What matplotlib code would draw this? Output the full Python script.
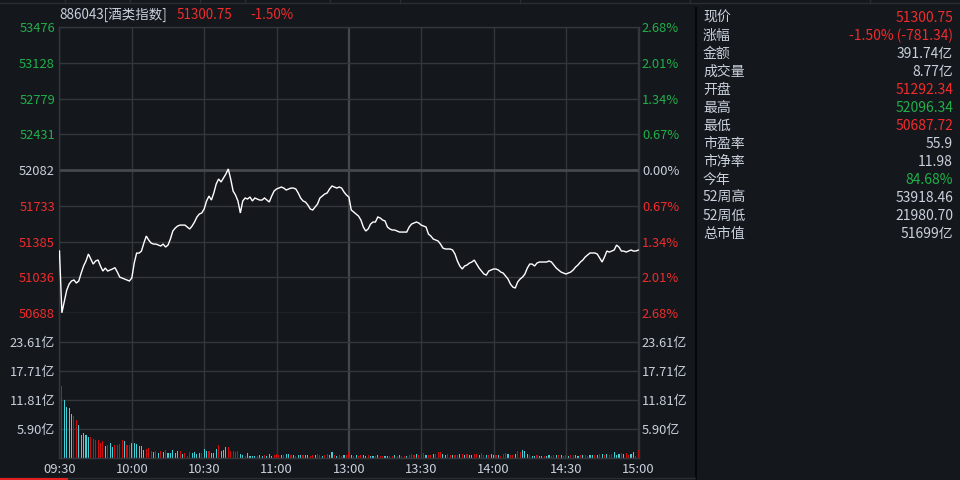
import matplotlib
matplotlib.use("Agg")
import matplotlib.pyplot as plt
import numpy as np

# ---------------- data ----------------
code_name = "886043[酒类指数]"
last_price = "51300.75"
last_pct = "-1.50%"
prev_close = 52082.09

price = [
    51292, 50690, 50800, 50910, 50970, 51000, 51010, 50980, 51000, 51077,
    51146, 51195, 51263, 51214, 51165, 51195, 51205, 51146, 51097, 51126,
    51097, 51107, 51117, 51130, 51087, 51038, 51029, 51019, 51009, 51000,
    51029, 51175, 51272, 51272, 51292, 51370, 51438, 51399, 51370, 51360,
    51360, 51350, 51341, 51360, 51331, 51350, 51409, 51487, 51516, 51536,
    51545, 51545, 51545, 51526, 51507, 51536, 51575, 51624, 51653, 51663,
    51702, 51780, 51828, 51789, 51858, 51946, 51994, 51965, 52004, 52043,
    52092, 51994, 51877, 51838, 51780, 51663, 51780, 51809, 51799, 51819,
    51780, 51809, 51799, 51789, 51789, 51809, 51789, 51770, 51828, 51877,
    51897, 51906, 51916, 51906, 51887, 51897, 51906, 51906, 51897, 51858,
    51809, 51780, 51770, 51741, 51702, 51692, 51721, 51750, 51809, 51828,
    51848, 51858, 51897, 51926, 51916, 51906, 51916, 51906, 51867, 51838,
    51819, 51692, 51672, 51653, 51633, 51594, 51526, 51487, 51507, 51555,
    51575, 51575, 51624, 51614, 51594, 51585, 51526, 51507, 51497, 51497,
    51487, 51477, 51477, 51477, 51477, 51526, 51555, 51565, 51575, 51565,
    51545, 51536, 51526, 51458, 51438, 51409, 51399, 51390, 51360, 51321,
    51312, 51312, 51312, 51302, 51263, 51195, 51146, 51117, 51146, 51156,
    51175, 51185, 51204, 51165, 51126, 51097, 51068, 51058, 51097, 51107,
    51117, 51117, 51107, 51087, 51077, 51048, 51019, 50970, 50941, 50931,
    50990, 51019, 51038, 51068, 51126, 51165, 51165, 51146, 51175, 51185,
    51185, 51185, 51185, 51195, 51185, 51156, 51126, 51107, 51087, 51077,
    51068, 51077, 51087, 51107, 51136, 51156, 51185, 51204, 51234, 51253,
    51273, 51273, 51273, 51263, 51224, 51185, 51234, 51292, 51282, 51292,
    51302, 51350, 51331, 51292, 51292, 51282, 51292, 51302, 51292, 51292,
    51300.75,
]

volume = [
    32.0, 14.7, 11.8, 10.4, 10.1, 8.9, 8.4, 7.7, 6.7, 4.6,
    5.1, 4.6, 4.1, 4.1, 3.8, 3.6, 3.6, 2.9, 3.4, 2.4,
    2.6, 2.9, 2.2, 2.5, 2.5, 2.8, 3.6, 3.4, 2.6, 2.6,
    2.9, 2.9, 2.8, 2.4, 2.4, 1.5, 1.7, 1.9, 1.3, 1.2,
    1.3, 1.0, 1.3, 1.2, 1.5, 1.0, 1.0, 1.5, 1.0, 1.3,
    1.3, 0.8, 1.0, 0.3, 1.2, 1.0, 1.2, 0.7, 1.0, 1.0,
    1.7, 1.3, 1.3, 1.0, 1.0, 1.7, 2.6, 1.4, 1.5, 2.1,
    2.1, 1.4, 1.3, 1.2, 1.3, 0.7, 0.6, 0.4, 1.0, 0.4,
    0.4, 0.4, 0.4, 0.6, 0.4, 0.6, 0.4, 0.7, 0.4, 0.6,
    0.7, 0.6, 0.5, 0.5, 0.8, 0.7, 0.6, 0.6, 0.4, 0.6,
    0.5, 0.6, 0.5, 0.6, 0.4, 0.6, 0.5, 0.7, 0.5, 0.4,
    0.5, 0.7, 0.6, 1.1, 0.5, 0.4, 0.5, 0.3, 0.5, 0.6,
    1.1, 0.5, 0.4, 0.5, 0.4, 0.5, 0.5, 0.4, 0.5, 0.4,
    0.3, 0.4, 0.5, 0.4, 0.3, 0.4, 0.4, 0.3, 0.4, 0.5,
    0.3, 0.5, 0.4, 0.4, 0.3, 0.5, 0.7, 0.6, 0.8, 0.6,
    0.8, 0.9, 0.5, 0.6, 0.6, 0.7, 0.8, 1.1, 1.2, 0.8,
    0.6, 0.7, 0.5, 0.6, 0.6, 0.5, 0.7, 0.8, 0.6, 0.7,
    0.5, 0.6, 0.8, 0.7, 0.6, 0.9, 0.6, 0.5, 0.6, 0.7,
    0.6, 0.5, 0.6, 0.4, 0.7, 1.0, 0.8, 0.6, 0.5, 0.7,
    1.3, 1.2, 1.5, 1.4, 0.8, 0.6, 0.4, 0.4, 0.5, 0.4,
    0.4, 0.3, 0.4, 0.5, 0.4, 0.6, 0.5, 0.6, 0.5, 0.4,
    0.6, 0.4, 0.5, 0.6, 0.5, 0.4, 0.6, 0.5, 0.6, 0.4,
    0.5, 0.6, 0.6, 0.5, 0.7, 0.7, 0.6, 0.8, 0.6, 0.7,
    1.1, 0.6, 0.7, 0.9, 0.8, 0.9, 0.6, 0.7, 1.2, 0.4,
    1.5,
]

# R = up bar, C = down bar
vol_dir = (
    "RRCCCCRRCC" "CCCRRRRRRC" "RCCRRRRCRR" "CCCCCCRRRC" "RCRCRCCCCC"
    "RCRRRCCCCR" "CCRCCCRCCC" "RRRRRCCRCC" "CCRCCRCCCR" "RRCRCCRCRC"
    "CRCCRRCRRC" "RRCCRCRRCR" "RCRCRRCCRC" "CRCRRCCRRC" "RCRRCRRRCR"
    "RRCRRCRRRC" "CRRCRRCRCR" "CCRRCRRCRC" "CRCRRRCRRC" "RRCCCRCCRC"
    "CRCCRRCRCR" "RCRRCCRCRR" "CCRCRCRCRR" "CCCRCRRCCR" "R"
)

time_ticks = [0, 30, 60, 90, 120, 150, 180, 210, 240]
time_labels = ["09:30", "10:00", "10:30", "11:00", "13:00", "13:30", "14:00", "14:30", "15:00"]

price_ticks = [50688, 51036, 51385, 51733, 52082, 52431, 52779, 53128, 53476]
pct_labels = ["2.68%", "2.01%", "1.34%", "0.67%", "0.00%", "0.67%", "1.34%", "2.01%", "2.68%"]

vol_ticks = [5.90, 11.81, 17.71, 23.61]
vol_labels = ["5.90亿", "11.81亿", "17.71亿", "23.61亿"]
vol_top = 29.51

info_names = ["现价", "涨幅", "金额", "成交量", "开盘", "最高", "最低",
              "市盈率", "市净率", "今年", "52周高", "52周低", "总市值"]
info_values = ["51300.75", "-1.50% (-781.34)", "391.74亿", "8.77亿", "51292.34",
               "52096.34", "50687.72", "55.9", "11.98", "84.68%", "53918.46",
               "21980.70", "51699亿"]

# ---------------- style ----------------
BG = "#14171c"
GRID = "#33363b"
GRID_MAIN = "#45484d"
TXT = "#c9d1dc"
RED = "#f02c2c"
GREEN = "#20b04a"
BAR_RED = "#d00c0c"
BAR_CYAN = "#3fd0d8"
info_colors = [RED, RED, TXT, TXT, RED, GREEN, RED, TXT, TXT, GREEN, TXT, TXT, TXT]

FONT = ["Noto Sans CJK SC", "DejaVu Sans"]
plt.rcParams["font.family"] = FONT
FS = 9.3

W, H = 960, 480
fig = plt.figure(figsize=(W / 100, H / 100), dpi=100, facecolor=BG)


def fx(x):
    return x / W


def fy(y):
    return 1 - y / H


L, R = 58.5, 638.5
PT, PB = 27, 313
VB = 457.5

ax = fig.add_axes([fx(L), fy(PB), (R - L) / W, (PB - PT) / H], facecolor=BG)
axv = fig.add_axes([fx(L), fy(VB), (R - L) / W, (VB - PB) / H], facecolor=BG)

n = len(price)
xs = np.arange(n)

for a in (ax, axv):
    a.set_xlim(-0.4, 240.1)
    for s in a.spines.values():
        s.set_color(GRID)
        s.set_linewidth(1.0)
    for t in time_ticks:
        lw, col = (1.6, GRID_MAIN) if t == 120 else (1.0, GRID)
        a.axvline(t, color=col, lw=lw, zorder=0)
    a.tick_params(length=0)

# price panel
ax.set_ylim(price_ticks[0], price_ticks[-1])
for p in price_ticks:
    if p == 52082:
        ax.axhline(p, color=GRID_MAIN, lw=2.0, zorder=0)
    else:
        ax.axhline(p, color=GRID, lw=1.0, zorder=0)
ax.plot(xs, price, color="white", lw=1.0, zorder=3, solid_joinstyle="miter")
ax.set_xticks([])
ax.set_yticks(price_ticks)
ax.set_yticklabels([str(p) for p in price_ticks])
ax.tick_params(axis="y", labelsize=FS, pad=2.5)


def level_color(p):
    if p > 52082:
        return GREEN
    if p < 52082:
        return RED
    return TXT


for lab, p in zip(ax.get_yticklabels(), price_ticks):
    lab.set_color(level_color(p))

axr = ax.twinx()
axr.set_ylim(ax.get_ylim())
axr.set_yticks(price_ticks)
axr.set_yticklabels(pct_labels)
axr.tick_params(axis="y", length=0, labelsize=FS, pad=2.5)
for lab, p in zip(axr.get_yticklabels(), price_ticks):
    lab.set_color(level_color(p))
for s in axr.spines.values():
    s.set_visible(False)

# volume panel
axv.set_ylim(0, vol_top)
for v in vol_ticks:
    axv.axhline(v, color=GRID, lw=1.0, zorder=0)
bar_cols = [BAR_RED if d == "R" else BAR_CYAN for d in vol_dir]
axv.bar(xs, volume, width=0.45, color=bar_cols, linewidth=0, zorder=2)
axv.set_yticks(vol_ticks)
axv.set_yticklabels(vol_labels, color=TXT)
axv.tick_params(axis="y", labelsize=FS, pad=2.5)
axv.set_xticks(time_ticks)
axv.set_xticklabels(time_labels, color=TXT)
axv.tick_params(axis="x", labelsize=FS, pad=4)
axv.spines["top"].set_visible(False)

axvr = axv.twinx()
axvr.set_ylim(0, vol_top)
axvr.set_yticks(vol_ticks)
axvr.set_yticklabels(vol_labels, color=TXT)
axvr.tick_params(axis="y", length=0, labelsize=FS, pad=2.5)
for s in axvr.spines.values():
    s.set_visible(False)

# title
TFS = 9.7
fig.text(fx(59), fy(15), code_name, color=TXT, fontsize=TFS, va="center", ha="left")
fig.text(fx(177), fy(15), last_price, color=RED, fontsize=TFS, va="center", ha="left")
fig.text(fx(250), fy(15), last_pct, color=RED, fontsize=TFS, va="center", ha="left")

# frame lines
fig.add_artist(plt.Line2D([0, 1], [fy(3), fy(3)], color="#2a2d32", lw=1.0))
for xsep in [65, 130, 200, 245, 330, 400, 520, 690, 870]:
    fig.add_artist(plt.Line2D([fx(xsep), fx(xsep)], [fy(0), fy(3)], color="#2a2d32", lw=1.0))
fig.add_artist(plt.Line2D([fx(695.5), fx(695.5)], [fy(8), 0], color="#05070a", lw=1.5))
fig.add_artist(plt.Line2D([0, fx(695)], [fy(478), fy(478)], color="#2a2d32", lw=1.0))
fig.add_artist(plt.Line2D([0, fx(67)], [fy(478.5), fy(478.5)], color="#e02020", lw=1.5))

# info panel
IFS = 10
for k, (nm, val, col) in enumerate(zip(info_names, info_values, info_colors)):
    yy = 18 + k * 18
    fig.text(fx(703), fy(yy), nm, color=TXT, fontsize=IFS, va="center", ha="left")
    fig.text(fx(953), fy(yy), val, color=col, fontsize=IFS, va="center", ha="right")

fig.savefig("out.png", dpi=100, facecolor=BG)
